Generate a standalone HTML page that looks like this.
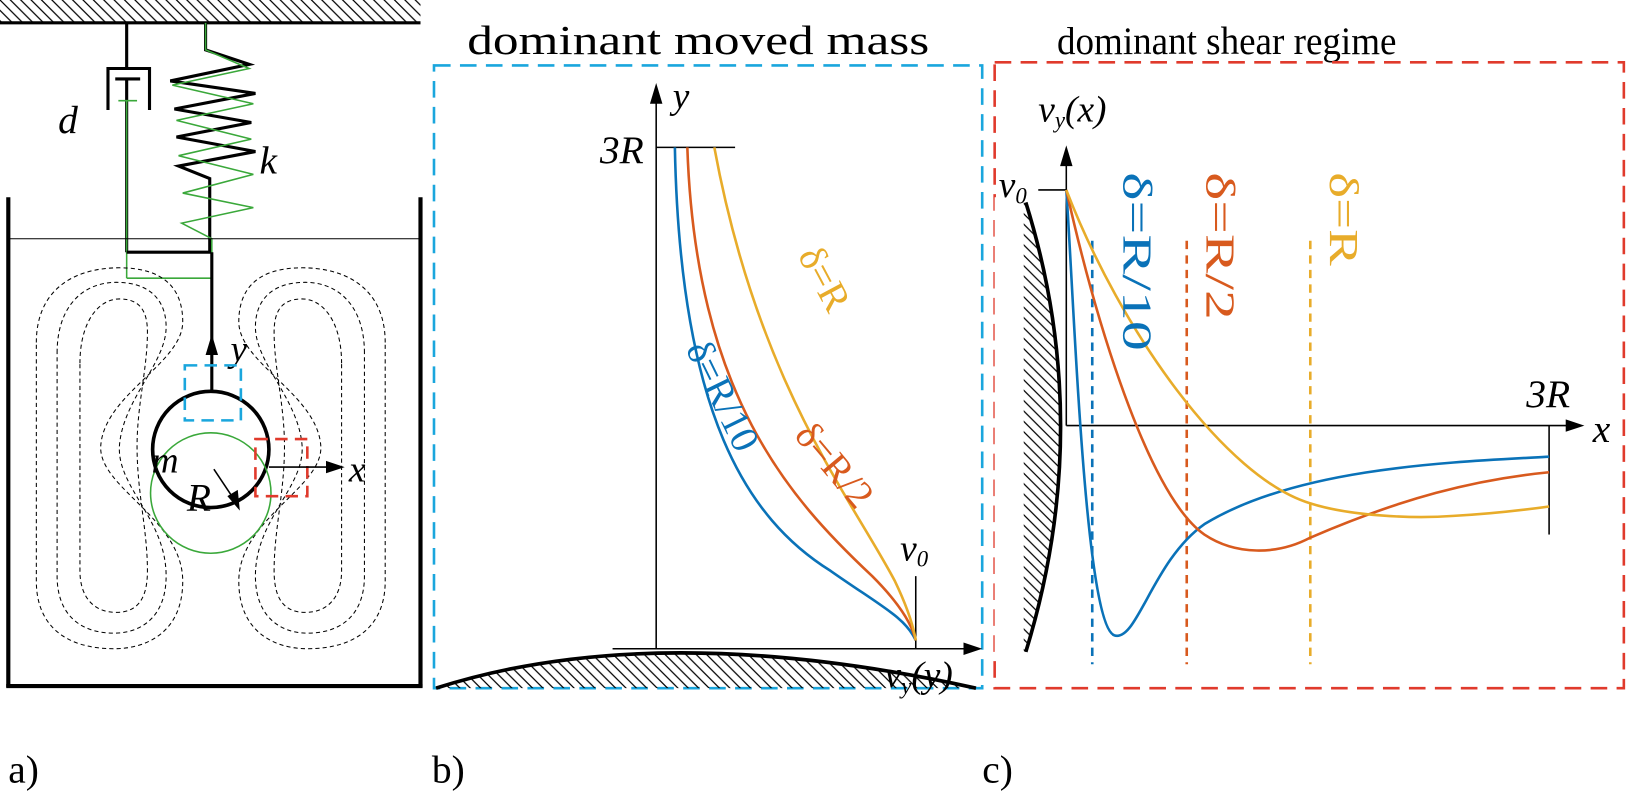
<!DOCTYPE html>
<html><head><meta charset="utf-8"><style>
html,body{margin:0;padding:0;background:#fff}
svg{display:block}
text{font-family:"Liberation Serif",serif}
.i{font-style:italic}
</style></head><body>
<svg width="1628" height="793" viewBox="0 0 1568 764" preserveAspectRatio="none" xmlns="http://www.w3.org/2000/svg">
<defs>
<pattern id="h" width="10" height="10" patternUnits="userSpaceOnUse">
<path d="M-2 -2 L12 12 M-12 -2 L2 12 M8 -2 L22 12" stroke="#000" stroke-width="1.2"/>
</pattern>
</defs>
<rect width="1568" height="764" fill="#fff"/>

<!-- Panel a -->
<rect x="0" y="0" width="405" height="21" fill="url(#h)"/>
<line x1="0" y1="22" x2="405" y2="22" stroke="#000" stroke-width="3"/>
<line x1="122" y1="22" x2="122" y2="66" stroke="#000" stroke-width="3"/>
<path d="M104 106 V66 H144 V106" fill="none" stroke="#000" stroke-width="3"/>
<line x1="111" y1="76" x2="135" y2="76" stroke="#000" stroke-width="3"/>
<line x1="122" y1="76" x2="122" y2="243" stroke="#000" stroke-width="3"/>
<line x1="114" y1="97" x2="132" y2="97" stroke="#3aa83a" stroke-width="1.5"/>
<line x1="122" y1="97" x2="122" y2="268" stroke="#3aa83a" stroke-width="1.5"/>
<line x1="122" y1="268" x2="204" y2="268" stroke="#3aa83a" stroke-width="1.5"/>
<line x1="122" y1="243" x2="204" y2="243" stroke="#000" stroke-width="3"/>
<path d="M198 22 V48 L240 62 L164 78 L246 90 L168 105 L242 118 L170 132 L246 146 L172 160 L202 172 V243" fill="none" stroke="#000" stroke-width="3"/>
<path d="M198 22 V48 L240 66 L166 82 L244 100 L170 116 L242 134 L172 150 L244 168 L176 186 L244 200 L175 215 L204 230 V378" fill="none" stroke="#3aa83a" stroke-width="1.5"/>
<line x1="204" y1="243" x2="204" y2="340" stroke="#000" stroke-width="3"/>
<path d="M204 322 L198 342 L210 342 Z" fill="#000"/>
<line x1="204" y1="340" x2="204" y2="378" stroke="#000" stroke-width="3"/>
<text x="222" y="348" class="i" font-size="36">y</text>
<line x1="8" y1="190" x2="8" y2="662" stroke="#000" stroke-width="4"/>
<line x1="405" y1="190" x2="405" y2="662" stroke="#000" stroke-width="4"/>
<line x1="6" y1="661" x2="407" y2="661" stroke="#000" stroke-width="4"/>
<line x1="8" y1="230" x2="405" y2="230" stroke="#000" stroke-width="1"/>
<g fill="none" stroke="#000" stroke-width="1" stroke-dasharray="4,3">
<path d="M35 330 C35 280,70 258,115 258 C160 258,176 280,176 310 C176 350,100 380,97 430 C95 470,176 500,176 560 C176 610,140 625,110 625 C60 625,35 600,35 560 Z"/>
<path d="M55 340 C55 295,80 272,112 272 C145 272,160 290,160 315 C160 350,118 385,115 430 C113 470,160 500,160 555 C160 595,135 610,110 610 C75 610,55 590,55 555 Z"/>
<path d="M77 350 C77 310,95 288,115 288 C135 288,142 300,142 320 C142 355,132 390,132 430 C132 475,142 510,142 550 C142 580,130 590,112 590 C90 590,77 575,77 550 Z"/>
<g transform="translate(406,0) scale(-1,1)">
<path d="M35 330 C35 280,70 258,115 258 C160 258,176 280,176 310 C176 350,100 380,97 430 C95 470,176 500,176 560 C176 610,140 625,110 625 C60 625,35 600,35 560 Z"/>
<path d="M55 340 C55 295,80 272,112 272 C145 272,160 290,160 315 C160 350,118 385,115 430 C113 470,160 500,160 555 C160 595,135 610,110 610 C75 610,55 590,55 555 Z"/>
<path d="M77 350 C77 310,95 288,115 288 C135 288,142 300,142 320 C142 355,132 390,132 430 C132 475,142 510,142 550 C142 580,130 590,112 590 C90 590,77 575,77 550 Z"/>
</g>
</g>
<circle cx="203" cy="433" r="56" fill="none" stroke="#000" stroke-width="3.5"/>
<circle cx="203" cy="475" r="58" fill="none" stroke="#3aa83a" stroke-width="1.5"/>
<rect x="178" y="352" width="54" height="53" fill="none" stroke="#1aa6dd" stroke-width="2.5" stroke-dasharray="12,7"/>
<rect x="246" y="423" width="50" height="55" fill="none" stroke="#e03a2c" stroke-width="2.5" stroke-dasharray="12,7"/>
<line x1="259" y1="450" x2="318" y2="450" stroke="#000" stroke-width="1.5"/>
<path d="M332 450 L314 444 L314 456 Z" fill="#000"/>
<text x="336" y="464" class="i" font-size="36">x</text>
<text x="146" y="455" class="i" font-size="36">m</text>
<text x="180" y="492" class="i" font-size="38">R</text>
<line x1="206" y1="452" x2="226" y2="482" stroke="#000" stroke-width="1.5"/>
<path d="M231 492 L219 478 L229 472 Z" fill="#000"/>
<text x="56" y="128" class="i" font-size="38">d</text>
<text x="250" y="167" class="i" font-size="38">k</text>

<!-- Panel b -->
<text x="450" y="52" font-size="40" textLength="445" lengthAdjust="spacingAndGlyphs">dominant moved mass</text>
<rect x="418" y="63" width="528" height="600" fill="none" stroke="#1aa6dd" stroke-width="2.5" stroke-dasharray="16,9"/>
<path d="M420 663 Q632 595 940 663 Z" fill="url(#h)"/>
<path d="M420 663 Q632 595 940 663" fill="none" stroke="#000" stroke-width="3.5"/>
<line x1="590" y1="625" x2="932" y2="625" stroke="#000" stroke-width="1.5"/>
<path d="M946 625 L928 619 L928 631 Z" fill="#000"/>
<line x1="632" y1="625" x2="632" y2="95" stroke="#000" stroke-width="1.5"/>
<path d="M632 80 L626 100 L638 100 Z" fill="#000"/>
<text x="648" y="104" class="i" font-size="36">y</text>
<line x1="632" y1="142" x2="708" y2="142" stroke="#000" stroke-width="1.5"/>
<text x="620" y="157" class="i" font-size="38" text-anchor="end">3R</text>
<line x1="882" y1="625" x2="882" y2="555" stroke="#000" stroke-width="1.5"/>
<text x="867" y="540" class="i" font-size="36">v<tspan font-size="22" dy="6">0</tspan></text>
<text x="852" y="662" class="i" font-size="36">v<tspan font-size="22" dy="6">y</tspan><tspan dy="-6">(y)</tspan></text>
<g fill="none" stroke-width="2.5">
<path d="M650 142 C655 400,720 500,800 550 C850 585,872 595,882 617" stroke="#0a72b8"/>
<path d="M662 142 C670 380,760 480,840 555 C865 580,878 600,882 617" stroke="#d85a1e"/>
<path d="M688 142 C730 370,820 480,862 560 C874 585,880 605,882 617" stroke="#e8ac2a"/>
</g>
<text transform="translate(768,246) rotate(62)" font-size="38" fill="#e8ac2a">δ=R</text>
<text transform="translate(660,336) rotate(64)" font-size="38" fill="#0a72b8">δ=R/10</text>
<text transform="translate(764,420) rotate(50)" font-size="38" fill="#d85a1e">δ=R/2</text>

<!-- Panel c -->
<text x="1018" y="52" font-size="38" textLength="327" lengthAdjust="spacingAndGlyphs">dominant shear regime</text>
<rect x="958" y="60" width="606" height="603" fill="none" stroke="#e03a2c" stroke-width="2.5" stroke-dasharray="16,9"/>
<path d="M988 195 Q1055 410 988 628 L960 628 L960 195 Z" fill="url(#h)"/>
<rect x="958" y="190" width="28" height="445" fill="#fff"/>
<path d="M988 195 Q1055 410 988 628" fill="none" stroke="#000" stroke-width="3.5"/>
<line x1="1027" y1="410" x2="1027" y2="155" stroke="#000" stroke-width="1.5"/>
<path d="M1027 140 L1021 160 L1033 160 Z" fill="#000"/>
<text x="1000" y="117" class="i" font-size="36">v<tspan font-size="22" dy="6">y</tspan><tspan dy="-6">(x)</tspan></text>
<line x1="1000" y1="183" x2="1027" y2="183" stroke="#000" stroke-width="1.5"/>
<text x="962" y="190" class="i" font-size="36">v<tspan font-size="22" dy="6">0</tspan></text>
<line x1="1027" y1="410" x2="1512" y2="410" stroke="#000" stroke-width="1.5"/>
<path d="M1526 410 L1508 404 L1508 416 Z" fill="#000"/>
<text x="1534" y="426" class="i" font-size="38">x</text>
<text x="1470" y="392" class="i" font-size="38">3R</text>
<line x1="1492" y1="410" x2="1492" y2="515" stroke="#000" stroke-width="1.5"/>
<g stroke-width="2.5" stroke-dasharray="8,6">
<line x1="1052" y1="232" x2="1052" y2="640" stroke="#0a72b8"/>
<line x1="1143" y1="232" x2="1143" y2="640" stroke="#d85a1e"/>
<line x1="1262" y1="232" x2="1262" y2="640" stroke="#e8ac2a"/>
</g>
<g fill="none" stroke-width="2.5">
<path d="M1027 183 C1035 300,1045 600,1073 612 C1095 620,1110 540,1160 505 C1250 450,1400 445,1492 440" stroke="#0a72b8"/>
<path d="M1027 183 C1060 330,1110 480,1160 515 C1190 535,1230 535,1262 518 C1350 480,1420 462,1492 455" stroke="#d85a1e"/>
<path d="M1027 183 C1080 320,1180 460,1262 485 C1300 497,1360 500,1400 497 C1440 495,1470 491,1492 488" stroke="#e8ac2a"/>
</g>
<text transform="translate(1082,166) rotate(90)" font-size="40" fill="#0a72b8" textLength="172" lengthAdjust="spacingAndGlyphs">δ=R/10</text>
<text transform="translate(1162,166) rotate(90)" font-size="40" fill="#d85a1e" textLength="142" lengthAdjust="spacingAndGlyphs">δ=R/2</text>
<text transform="translate(1281,166) rotate(90)" font-size="40" fill="#e8ac2a" textLength="90" lengthAdjust="spacingAndGlyphs">δ=R</text>

<text x="8" y="754" font-size="38">a)</text>
<text x="416" y="754" font-size="38">b)</text>
<text x="946" y="754" font-size="38">c)</text>
</svg>
</body></html>
